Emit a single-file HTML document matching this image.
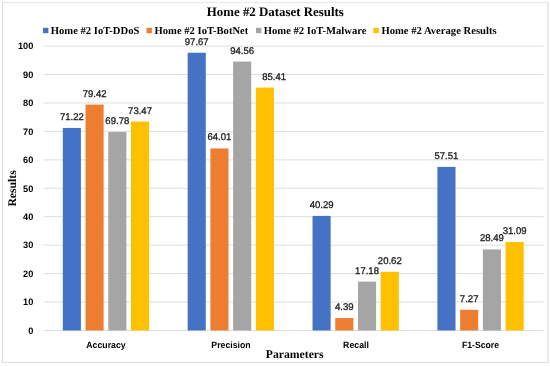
<!DOCTYPE html>
<html lang="en"><head><meta charset="utf-8"><title>Home #2 Dataset Results</title>
<style>html,body{margin:0;padding:0;background:#fff}svg{display:block}text{text-rendering:geometricPrecision}.t{font-family:"Liberation Serif",serif;font-weight:bold;fill:#000}.s{font-family:"Liberation Sans",sans-serif;font-weight:bold;fill:#000;font-size:9.3px}.c{font-size:9.1px}.d{font-family:"Liberation Sans",sans-serif;font-weight:normal;fill:#1c1c1c;stroke:#1c1c1c;stroke-width:0.3px;font-size:9.7px}</style></head><body>
<svg width="550" height="366" viewBox="0 0 550 366">
<rect x="0" y="0" width="550" height="366" fill="#fff"/>
<line x1="2" x2="548.5" y1="2.6" y2="2.6" stroke="#e6e6e6" stroke-width="1"/>
<line x1="2" x2="548.5" y1="362.4" y2="362.4" stroke="#dcdcdc" stroke-width="1"/>
<line x1="2.5" x2="2.5" y1="2" y2="363" stroke="#dadada" stroke-width="1"/>
<line x1="547.9" x2="547.9" y1="2" y2="363" stroke="#dedede" stroke-width="1.2"/>
<line x1="43.5" x2="543.5" y1="330.45" y2="330.45" stroke="#d9d9d9" stroke-width="0.9"/>
<line x1="43.5" x2="543.5" y1="302.01" y2="302.01" stroke="#d9d9d9" stroke-width="0.9"/>
<line x1="43.5" x2="543.5" y1="273.58" y2="273.58" stroke="#d9d9d9" stroke-width="0.9"/>
<line x1="43.5" x2="543.5" y1="245.14" y2="245.14" stroke="#d9d9d9" stroke-width="0.9"/>
<line x1="43.5" x2="543.5" y1="216.71" y2="216.71" stroke="#d9d9d9" stroke-width="0.9"/>
<line x1="43.5" x2="543.5" y1="188.27" y2="188.27" stroke="#d9d9d9" stroke-width="0.9"/>
<line x1="43.5" x2="543.5" y1="159.84" y2="159.84" stroke="#d9d9d9" stroke-width="0.9"/>
<line x1="43.5" x2="543.5" y1="131.40" y2="131.40" stroke="#d9d9d9" stroke-width="0.9"/>
<line x1="43.5" x2="543.5" y1="102.97" y2="102.97" stroke="#d9d9d9" stroke-width="0.9"/>
<line x1="43.5" x2="543.5" y1="74.53" y2="74.53" stroke="#d9d9d9" stroke-width="0.9"/>
<line x1="43.5" x2="543.5" y1="46.10" y2="46.10" stroke="#d9d9d9" stroke-width="0.9"/>
<rect x="62.80" y="127.94" width="18.1" height="202.51" fill="#4472C4"/>
<rect x="85.53" y="104.62" width="18.1" height="225.83" fill="#ED7D31"/>
<rect x="108.26" y="132.03" width="18.1" height="198.42" fill="#A5A5A5"/>
<rect x="130.99" y="121.54" width="18.1" height="208.91" fill="#FFC000"/>
<rect x="187.67" y="52.73" width="18.1" height="277.72" fill="#4472C4"/>
<rect x="210.40" y="148.44" width="18.1" height="182.01" fill="#ED7D31"/>
<rect x="233.13" y="61.57" width="18.1" height="268.88" fill="#A5A5A5"/>
<rect x="255.86" y="87.59" width="18.1" height="242.86" fill="#FFC000"/>
<rect x="312.54" y="215.89" width="18.1" height="114.56" fill="#4472C4"/>
<rect x="335.27" y="317.97" width="18.1" height="12.48" fill="#ED7D31"/>
<rect x="358.00" y="281.60" width="18.1" height="48.85" fill="#A5A5A5"/>
<rect x="380.73" y="271.82" width="18.1" height="58.63" fill="#FFC000"/>
<rect x="437.41" y="166.92" width="18.1" height="163.53" fill="#4472C4"/>
<rect x="460.14" y="309.78" width="18.1" height="20.67" fill="#ED7D31"/>
<rect x="482.87" y="249.44" width="18.1" height="81.01" fill="#A5A5A5"/>
<rect x="505.60" y="242.05" width="18.1" height="88.40" fill="#FFC000"/>
<text class="s" x="33.3" y="333.75" text-anchor="end" textLength="5.1" lengthAdjust="spacingAndGlyphs">0</text>
<text class="s" x="33.3" y="305.31" text-anchor="end" textLength="10.2" lengthAdjust="spacingAndGlyphs">10</text>
<text class="s" x="33.3" y="276.88" text-anchor="end" textLength="10.2" lengthAdjust="spacingAndGlyphs">20</text>
<text class="s" x="33.3" y="248.44" text-anchor="end" textLength="10.2" lengthAdjust="spacingAndGlyphs">30</text>
<text class="s" x="33.3" y="220.01" text-anchor="end" textLength="10.2" lengthAdjust="spacingAndGlyphs">40</text>
<text class="s" x="33.3" y="191.57" text-anchor="end" textLength="10.2" lengthAdjust="spacingAndGlyphs">50</text>
<text class="s" x="33.3" y="163.14" text-anchor="end" textLength="10.2" lengthAdjust="spacingAndGlyphs">60</text>
<text class="s" x="33.3" y="134.70" text-anchor="end" textLength="10.2" lengthAdjust="spacingAndGlyphs">70</text>
<text class="s" x="33.3" y="106.27" text-anchor="end" textLength="10.2" lengthAdjust="spacingAndGlyphs">80</text>
<text class="s" x="33.3" y="77.83" text-anchor="end" textLength="10.2" lengthAdjust="spacingAndGlyphs">90</text>
<text class="s" x="33.3" y="49.40" text-anchor="end" textLength="15.3" lengthAdjust="spacingAndGlyphs">100</text>
<text class="d" x="71.85" y="119.94" text-anchor="middle" textLength="23.9" lengthAdjust="spacingAndGlyphs">71.22</text>
<text class="d" x="94.58" y="96.62" text-anchor="middle" textLength="23.9" lengthAdjust="spacingAndGlyphs">79.42</text>
<text class="d" x="117.31" y="124.03" text-anchor="middle" textLength="23.9" lengthAdjust="spacingAndGlyphs">69.78</text>
<text class="d" x="140.04" y="113.54" text-anchor="middle" textLength="23.9" lengthAdjust="spacingAndGlyphs">73.47</text>
<text class="d" x="196.72" y="44.73" text-anchor="middle" textLength="23.9" lengthAdjust="spacingAndGlyphs">97.67</text>
<text class="d" x="219.45" y="140.44" text-anchor="middle" textLength="23.9" lengthAdjust="spacingAndGlyphs">64.01</text>
<text class="d" x="242.18" y="53.57" text-anchor="middle" textLength="23.9" lengthAdjust="spacingAndGlyphs">94.56</text>
<text class="d" x="274.21" y="79.59" text-anchor="middle" textLength="23.9" lengthAdjust="spacingAndGlyphs">85.41</text>
<text class="d" x="321.59" y="207.89" text-anchor="middle" textLength="23.9" lengthAdjust="spacingAndGlyphs">40.29</text>
<text class="d" x="344.32" y="309.97" text-anchor="middle" textLength="18.7" lengthAdjust="spacingAndGlyphs">4.39</text>
<text class="d" x="367.05" y="273.60" text-anchor="middle" textLength="23.9" lengthAdjust="spacingAndGlyphs">17.18</text>
<text class="d" x="389.78" y="263.82" text-anchor="middle" textLength="23.9" lengthAdjust="spacingAndGlyphs">20.62</text>
<text class="d" x="446.46" y="158.92" text-anchor="middle" textLength="23.9" lengthAdjust="spacingAndGlyphs">57.51</text>
<text class="d" x="469.19" y="301.78" text-anchor="middle" textLength="18.7" lengthAdjust="spacingAndGlyphs">7.27</text>
<text class="d" x="491.92" y="241.44" text-anchor="middle" textLength="23.9" lengthAdjust="spacingAndGlyphs">28.49</text>
<text class="d" x="514.65" y="234.05" text-anchor="middle" textLength="23.9" lengthAdjust="spacingAndGlyphs">31.09</text>
<text class="s c" x="105.95" y="347.5" text-anchor="middle" textLength="39.4" lengthAdjust="spacingAndGlyphs">Accuracy</text>
<text class="s c" x="231.00" y="347.5" text-anchor="middle" textLength="39.4" lengthAdjust="spacingAndGlyphs">Precision</text>
<text class="s c" x="356.00" y="347.5" text-anchor="middle" textLength="25.8" lengthAdjust="spacingAndGlyphs">Recall</text>
<text class="s c" x="480.50" y="347.5" text-anchor="middle" textLength="37.0" lengthAdjust="spacingAndGlyphs">F1-Score</text>
<text class="t" x="275.3" y="16.3" text-anchor="middle" font-size="13" textLength="137" lengthAdjust="spacingAndGlyphs">Home #2 Dataset Results</text>
<rect x="43.0" y="27.8" width="5.4" height="5.4" fill="#4472C4"/>
<text class="t" x="50.8" y="33.8" font-size="10.6" textLength="88.6" lengthAdjust="spacingAndGlyphs">Home #2 IoT-DDoS</text>
<rect x="146.5" y="27.8" width="5.4" height="5.4" fill="#ED7D31"/>
<text class="t" x="154.6" y="33.8" font-size="10.6" textLength="93.7" lengthAdjust="spacingAndGlyphs">Home #2 IoT-BotNet</text>
<rect x="256.0" y="27.8" width="5.4" height="5.4" fill="#A5A5A5"/>
<text class="t" x="263.7" y="33.8" font-size="10.6" textLength="102.8" lengthAdjust="spacingAndGlyphs">Home #2 IoT-Malware</text>
<rect x="373.4" y="27.8" width="5.4" height="5.4" fill="#FFC000"/>
<text class="t" x="381.4" y="33.8" font-size="10.6" textLength="115.2" lengthAdjust="spacingAndGlyphs">Home #2 Average Results</text>
<text class="t" x="265.8" y="358.2" font-size="11.7">Parameters</text>
<text class="t" transform="translate(15.7,188.4) rotate(-90)" text-anchor="middle" font-size="11.7">Results</text>
</svg></body></html>
